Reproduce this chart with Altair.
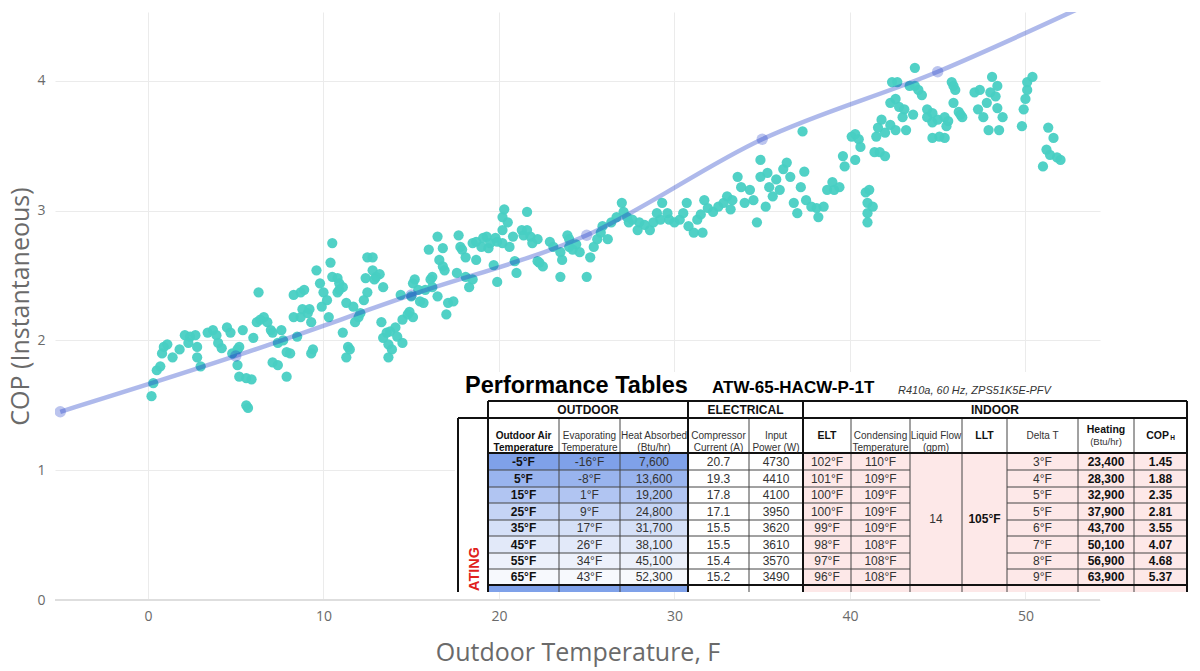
import altair as alt
import pandas as pd

# ---------------- scatter data (Outdoor temperature F, instantaneous COP) ----------------
temps = [
    0.2, 0.3, 0.5, 0.7, 0.9, 1.1, 0.8, 1.4, 1.8, 2.1, 2.4, 2.7, 2.3, 2.8, 3.0, 2.8, 3.4, 3.7, 3.9, 4.0,
    4.2, 4.5, 4.7, 4.8, 5.1, 5.2, 5.4, 5.1, 5.2, 5.6, 5.9, 5.7, 5.6, 6.0, 6.2, 6.4, 6.6, 6.3, 6.8, 7.0,
    7.1, 7.4, 7.6, 7.7, 7.9, 8.1, 7.1, 7.4, 7.9, 8.5, 8.3, 8.7, 8.3, 8.7, 8.9, 8.8, 9.1, 9.2, 9.3, 9.4,
    9.3, 9.6, 9.8, 10.0, 9.9, 10.2, 10.4, 10.5, 10.5, 10.8, 10.9, 10.9, 10.3, 11.1, 11.3, 11.3, 11.4,
    11.1, 10.8, 11.5, 11.7, 11.8, 12.0, 12.1, 12.3, 12.5, 12.4, 12.5, 12.8, 12.8, 13.0, 13.2, 12.9, 13.4,
    13.3, 13.4, 13.6, 13.8, 13.7, 13.9, 13.7, 14.1, 14.2, 14.4, 14.5, 14.5, 14.8, 14.9, 15.1, 15.0, 15.1,
    15.2, 15.4, 15.5, 15.7, 15.8, 16.0, 16.1, 16.2, 16.2, 16.5, 16.5, 16.6, 16.8, 16.8, 16.9, 17.0, 17.1,
    17.4, 17.6, 17.7, 17.8, 17.9, 18.1, 18.1, 18.3, 18.5, 18.5, 18.7, 18.7, 19.0, 19.1, 19.3, 19.4, 19.5,
    19.7, 19.8, 19.9, 19.9, 20.2, 20.2, 20.3, 20.5, 20.2, 20.6, 20.8, 20.9, 21.0, 21.3, 21.4, 21.6, 21.6,
    21.8, 21.9, 22.2, 22.2, 22.3, 22.5, 22.9, 23.1, 23.5, 23.5, 23.6, 23.9, 24.0, 24.2, 24.4,
    25.0, 24.0, 24.6, 25.2, 25.4, 25.6, 25.8, 25.9, 26.2, 26.4, 26.7, 27.0, 27.1, 27.3, 27.4, 27.6, 27.9,
    28.0, 28.3, 28.6, 28.8, 29.0, 29.2, 29.3, 29.6, 29.7, 30.0, 30.3, 30.5, 30.7, 30.8, 31.1, 31.3, 31.5,
    31.6, 31.7, 31.9, 32.2, 32.5, 32.8, 33.0, 33.2, 33.3, 33.6, 33.8, 34.0, 34.3, 34.5, 34.7, 34.9, 34.9,
    35.2, 35.3, 35.4, 35.6, 35.8, 36.0, 36.2, 36.4, 36.6, 36.8, 37.0, 37.2, 37.4,
    37.3, 37.5, 37.8, 38.1, 38.2, 38.5, 38.7, 39.0, 39.1, 39.4, 39.6, 39.7, 40.1, 40.3, 40.5, 40.6, 40.3,
    40.9, 41.1, 41.0, 41.0, 41.0, 41.3, 41.4, 41.7, 42.0, 41.5, 41.6, 41.8, 42.0, 42.3, 42.6, 42.3, 42.4,
    42.7, 42.6, 42.8, 43.1, 43.2, 43.0, 43.4, 43.7, 43.7, 43.9, 44.1, 43.6, 44.4, 44.4, 44.7, 44.7, 44.7,
    45.0, 45.1, 45.4, 45.4, 45.6, 45.5, 45.8, 45.9, 46.0, 45.9, 46.3, 46.4, 46.2, 47.1, 47.4, 47.3, 47.6,
    47.8, 47.9, 48.0, 48.1, 48.3, 48.4, 48.4, 48.5, 48.7, 49.8, 49.9, 50.0, 50.1, 50.1, 50.4, 51.3, 51.6,
    51.2, 51.4, 51.8, 52.0, 51.0,
]
cops = [
    1.57, 1.67, 1.77, 1.80, 1.95, 1.97, 1.90, 1.87, 1.93, 2.04, 2.03, 2.04, 1.98, 1.95, 1.80, 1.87, 2.06, 2.08, 2.04, 1.98,
    1.94, 2.10, 2.06, 1.90, 1.93, 1.95, 2.08, 1.81, 1.72, 1.71, 1.70, 1.48, 1.50, 2.02, 2.14, 2.16, 2.18, 2.37, 2.14, 2.08,
    2.06, 1.98, 2.08, 2.00, 1.91, 1.90, 1.83, 1.81, 1.72, 2.03, 2.18, 2.18, 2.35, 2.37, 2.39, 2.24, 2.21, 2.24, 2.14, 1.93,
    1.90, 2.54, 2.44, 2.37, 2.26, 2.31, 2.60, 2.75, 2.49, 2.48, 2.44, 2.39, 2.18, 2.06, 2.29, 1.87, 1.95,
    2.41, 2.37, 1.93, 2.26, 2.14, 2.18, 2.21, 2.31, 2.37, 2.48, 2.64, 2.64, 2.54, 2.49, 2.51, 2.47, 2.41,
    2.14, 2.02, 2.06, 2.07, 1.97, 1.93, 1.87, 2.10, 2.03, 2.35, 1.98, 2.16, 2.20, 2.22, 2.18, 2.34, 2.44,
    2.47, 2.39, 2.30, 2.29, 2.39, 2.70, 2.47, 2.49, 2.41, 2.34, 2.80, 2.62, 2.71, 2.57, 2.54, 2.20, 2.29,
    2.30, 2.52, 2.81, 2.72, 2.70, 2.64, 2.49, 2.41, 2.47, 2.75, 2.76, 2.62, 2.72, 2.79, 2.80, 2.71, 2.75,
    2.58, 2.79, 2.76, 2.45, 2.85, 2.95, 3.01, 2.91, 2.75, 2.72, 2.80, 2.61, 2.52, 2.85, 2.81, 2.99, 2.85,
    2.80, 2.75, 2.78, 2.61, 2.60, 2.57, 2.76, 2.72, 2.49, 2.68, 2.62, 2.81, 2.72, 2.70, 2.74,
    2.49, 2.78, 2.68, 2.64, 2.72, 2.78, 2.83, 2.88, 2.78, 2.91, 2.95, 3.06, 2.99, 2.95, 2.91, 2.93, 2.85,
    2.91, 2.89, 2.85, 2.91, 2.98, 2.93, 3.06, 2.98, 2.93, 2.91, 2.93, 2.98, 3.06, 2.88, 2.83, 2.93, 2.97,
    2.83, 3.08, 3.02, 2.99, 3.03, 3.06, 3.11, 3.01, 3.08, 3.26, 3.18, 3.06, 3.16, 3.08, 2.91, 3.39, 3.26,
    3.03, 3.29, 3.18, 3.11, 3.24, 3.16, 3.32, 3.37, 3.26, 3.06, 2.98, 3.18, 3.30,
    3.61, 3.08, 3.03, 3.02, 2.95, 3.03, 3.16, 3.22, 3.16, 3.18, 3.42, 3.34, 3.57, 3.59, 3.55, 3.49, 3.39,
    3.14, 3.16, 3.06, 2.98, 2.91, 3.03, 3.45, 3.45, 3.42, 3.57, 3.64, 3.70, 3.60, 3.66, 3.62, 3.83, 3.99,
    3.99, 3.86, 3.80, 3.78, 3.62, 3.72, 3.96, 4.10, 3.96, 3.93, 3.89, 3.74, 3.78, 3.72, 3.75, 3.68, 3.56,
    3.70, 3.57, 3.56, 3.72, 3.69, 3.65, 3.99, 3.96, 3.93, 3.83, 3.74, 3.72, 3.76, 3.91, 3.93, 3.78, 3.72,
    3.83, 3.62, 3.91, 4.03, 3.88, 3.96, 3.79, 3.62, 3.72, 3.65, 3.78, 3.86, 3.93, 3.99, 4.03, 3.64, 3.56,
    3.47, 3.43, 3.41, 3.39, 3.34,
]

# ---------------- rated COP line (from the performance table) ----------------
line_temps = [-5, 5, 15, 25, 35, 45, 55]
line_cops = [1.45, 1.88, 2.35, 2.81, 3.55, 4.07, 4.68]

x_ticks = [0, 10, 20, 30, 40, 50]
y_ticks = [0, 1, 2, 3, 4]

# ---------------- performance table content ----------------
outdoor_air = ["-5°F", "5°F", "15°F", "25°F", "35°F", "45°F", "55°F", "65°F"]
evap_temp = ["-16°F", "-8°F", "1°F", "9°F", "17°F", "26°F", "34°F", "43°F"]
heat_absorbed = ["7,600", "13,600", "19,200", "24,800", "31,700", "38,100", "45,100", "52,300"]
comp_current = ["20.7", "19.3", "17.8", "17.1", "15.5", "15.5", "15.4", "15.2"]
input_power = ["4730", "4410", "4100", "3950", "3620", "3610", "3570", "3490"]
elt = ["102°F", "101°F", "100°F", "100°F", "99°F", "98°F", "97°F", "96°F"]
cond_temp = ["110°F", "109°F", "109°F", "109°F", "109°F", "108°F", "108°F", "108°F"]
liquid_flow = "14"
llt = "105°F"
delta_t = ["3°F", "4°F", "5°F", "5°F", "6°F", "7°F", "8°F", "9°F"]
heating = ["23,400", "28,300", "32,900", "37,900", "43,700", "50,100", "56,900", "63,900"]
cop_h = ["1.45", "1.88", "2.35", "2.81", "3.55", "4.07", "4.68", "5.37"]

col_headers = ["Outdoor Air\nTemperature", "Evaporating\nTemperature", "Heat Absorbed\n(Btu/hr)",
               "Compressor\nCurrent (A)", "Input\nPower (W)", "ELT", "Condensing\nTemperature",
               "Liquid Flow\n(gpm)", "LLT", "Delta T", "Heating", "COP"]
group_headers = ["OUTDOOR", "ELECTRICAL", "INDOOR"]

# ---------------- styling / layout ----------------
W, H = 1045, 588
FONT = "Open Sans"
TFONT = "Liberation Sans"
DOT = "#48cfc3"
LINE = "#1e3cc8"

xs = alt.Scale(domain=[-5.3, 54.25], nice=False, zero=False)
ys = alt.Scale(domain=[0, 4.53], nice=False, zero=False)

xaxis = alt.Axis(values=x_ticks, title="Outdoor Temperature, F", grid=True, gridColor="#ebebeb",
                 domain=False, ticks=False, labelFont=FONT, labelFontSize=14, labelColor="#6a6a6a",
                 labelPadding=9, titleFont=FONT, titleFontSize=25, titleFontWeight="normal",
                 titleColor="#6a6a6a", titlePadding=17)
yaxis = alt.Axis(values=y_ticks, title="COP (Instantaneous)", grid=True, gridColor="#ebebeb",
                 domain=False, ticks=False, labelFont=FONT, labelFontSize=14, labelColor="#6a6a6a",
                 labelPadding=10, titleFont=FONT, titleFontSize=25, titleFontWeight="normal",
                 titleColor="#6a6a6a", titlePadding=3)

pts = pd.DataFrame({"t": temps, "cop": cops})
ldf = pd.DataFrame({"t": line_temps, "cop": line_cops})

zero_line = alt.Chart(pd.DataFrame({"cop": [0]})).mark_rule(color="#dedede", strokeWidth=2).encode(
    y=alt.Y("cop:Q", scale=ys, axis=yaxis))
scatter = alt.Chart(pts).mark_circle(size=105, color=DOT, opacity=0.95).encode(
    x=alt.X("t:Q", scale=xs, axis=xaxis), y=alt.Y("cop:Q", scale=ys, axis=yaxis))
line = alt.Chart(ldf).mark_line(color=LINE, opacity=0.36, strokeWidth=4.5, interpolate="monotone",
                                clip=True).encode(
    x=alt.X("t:Q", scale=xs, axis=xaxis), y=alt.Y("cop:Q", scale=ys, axis=yaxis))
markers = alt.Chart(ldf).mark_circle(color=LINE, opacity=0.3, size=130, clip=True).encode(
    x=alt.X("t:Q", scale=xs, axis=xaxis), y=alt.Y("cop:Q", scale=ys, axis=yaxis))

plot = alt.layer(zero_line, scatter, line, markers)

# ---------------- table (own scales, in table units) ----------------
tx = alt.Scale(domain=[0, 732], range=[403, 1135], nice=False, zero=False)
ty = alt.Scale(domain=[0, 220], range=[360, 580], nice=False, zero=False)


def TX(f):
    return alt.X(f"{f}:Q", scale=tx, axis=None)


def TY(f):
    return alt.Y(f"{f}:Q", scale=ty, axis=None)


col_edges = [30, 101, 162, 230, 291, 345, 393, 452, 504, 549, 620, 676, 729]
row_edges = [81, 98, 115, 131, 148, 164, 181, 197, 213]
blues = ["#7fa1e9", "#99b4ee", "#b1c5f2", "#c5d4f5", "#d5e0f7", "#e2e9f9", "#edf1fb", "#f7f9fd"]
PINK = "#fde8e8"
ccent = [(col_edges[i] + col_edges[i + 1]) / 2 for i in range(12)]
rcent = [(row_edges[i] + row_edges[i + 1]) / 2 for i in range(8)]


def fill_for(c, r):
    if c < 3:
        return blues[r]
    if c < 5:
        return "white"
    return PINK


rects = [dict(x=-3, x2=735, y=0, y2=220, fill="white")]
for r in range(8):
    for c in range(12):
        if c in (7, 8):
            continue
        rects.append(dict(x=col_edges[c], x2=col_edges[c + 1], y=row_edges[r], y2=row_edges[r + 1],
                          fill=fill_for(c, r)))
rects.append(dict(x=col_edges[7], x2=col_edges[9], y=81, y2=213, fill=PINK))
for c in range(12):
    rects.append(dict(x=col_edges[c], x2=col_edges[c + 1], y=213, y2=220, fill=fill_for(c, 0)))
rect_df = pd.DataFrame(rects)

thin = []
for yy in row_edges[1:-1]:
    thin.append(dict(x=30, x2=452, y=yy, y2=yy))
    thin.append(dict(x=549, x2=729, y=yy, y2=yy))
for i, xx in enumerate(col_edges):
    if i in (0, 3, 5, 12):
        continue
    thin.append(dict(x=xx, x2=xx, y=46, y2=220))
thin_df = pd.DataFrame(thin)

thick_df = pd.DataFrame([
    dict(x=30, x2=729, y=29, y2=29), dict(x=0, x2=729, y=46, y2=46), dict(x=30, x2=729, y=81, y2=81),
    dict(x=30, x2=729, y=213, y2=213), dict(x=0, x2=0, y=46, y2=220), dict(x=30, x2=30, y=29, y2=220),
    dict(x=230, x2=230, y=29, y2=220), dict(x=345, x2=345, y=29, y2=220), dict(x=729, x2=729, y=29, y2=220),
])

columns = [outdoor_air, evap_temp, heat_absorbed, comp_current, input_power, elt, cond_temp,
           None, None, delta_t, heating, cop_h]
bold_cols = {0, 10, 11}
normal_txt, bold_txt = [], []
for c, vals in enumerate(columns):
    if vals is None:
        continue
    for r, v in enumerate(vals):
        (bold_txt if c in bold_cols else normal_txt).append(dict(x=ccent[c], y=rcent[r], text=v, fs=12))
normal_txt.append(dict(x=ccent[7], y=147, text=liquid_flow, fs=12))
bold_txt.append(dict(x=ccent[8], y=147, text=llt, fs=12))
# headers
for i, g in enumerate(group_headers):
    gx = [(30 + 230) / 2, (230 + 345) / 2, (345 + 729) / 2][i]
    bold_txt.append(dict(x=gx, y=38, text=g, fs=12))
for c, h in enumerate(col_headers):
    if c in (5, 8):
        bold_txt.append(dict(x=ccent[c], y=63.5, text=h, fs=10.5))
    elif c == 0:
        bold_txt.append(dict(x=ccent[c], y=63.5, text=h, fs=10))
    elif c == 10:
        bold_txt.append(dict(x=ccent[c], y=58, text=h, fs=10.5))
        normal_txt.append(dict(x=ccent[c], y=70, text="(Btu/hr)", fs=9.5))
    elif c == 11:
        bold_txt.append(dict(x=ccent[c] - 3, y=63.5, text=h, fs=10.5))
    else:
        normal_txt.append(dict(x=ccent[c], y=63.5, text=h, fs=10))
sub_df = pd.DataFrame([dict(x=ccent[11] + 12, y=66, text="H", fs=6.5)])


def text_layer(rows, **kw):
    df = pd.DataFrame(rows)
    return alt.Chart(df).mark_text(font=TFONT, align="center", baseline="middle", lineBreak="\n",
                                   lineHeight=12.5, **kw).encode(
        x=TX("x"), y=TY("y"), text="text:N", size=alt.Size("fs:Q", scale=None))


rect_layer = alt.Chart(rect_df).mark_rect(strokeWidth=0).encode(
    x=TX("x"), x2="x2", y=TY("y"), y2="y2", fill=alt.Fill("fill:N", scale=None))
thin_layer = alt.Chart(thin_df).mark_rule(color="#444444", strokeWidth=1).encode(
    x=TX("x"), x2="x2", y=TY("y"), y2="y2")
thick_layer = alt.Chart(thick_df).mark_rule(color="#111111", strokeWidth=2).encode(
    x=TX("x"), x2="x2", y=TY("y"), y2="y2")

normal_layer = text_layer(normal_txt, color="#333333")
bold_layer = text_layer(bold_txt, color="#111111", fontWeight="bold")
sub_layer = text_layer(sub_df.to_dict("records"), color="#111111", fontWeight="bold")

title_df = pd.DataFrame([
    dict(x=7, y=21, text="Performance Tables", fs=23.5),
    dict(x=254, y=21, text="ATW-65-HACW-P-1T", fs=17),
])
title_layer = alt.Chart(title_df).mark_text(font=TFONT, fontWeight="bold", align="left",
                                            baseline="alphabetic", color="#000000").encode(
    x=TX("x"), y=TY("y"), text="text:N", size=alt.Size("fs:Q", scale=None))
sub_title = alt.Chart(pd.DataFrame([dict(x=440, y=22, text="R410a, 60 Hz, ZPS51K5E-PFV", fs=11)])).mark_text(
    font=TFONT, fontStyle="italic", align="left", baseline="alphabetic", color="#333333").encode(
    x=TX("x"), y=TY("y"), text="text:N", size=alt.Size("fs:Q", scale=None))
side_label = alt.Chart(pd.DataFrame([dict(x=17, y=197, text="ATING", fs=14.5)])).mark_text(
    font=TFONT, fontWeight="bold", align="center", baseline="middle", angle=270, color="#e0201c").encode(
    x=TX("x"), y=TY("y"), text="text:N", size=alt.Size("fs:Q", scale=None))

table = alt.layer(rect_layer, thin_layer, thick_layer, normal_layer, bold_layer, sub_layer,
                  title_layer, sub_title, side_label)

chart = alt.layer(plot, table).resolve_scale(x="independent", y="independent").properties(
    width=W, height=H,
    autosize=alt.AutoSizeParams(type="none"),
    padding={"left": 55, "top": 12, "right": 100, "bottom": 71},
    background="white",
).configure_view(stroke=None)

chart.save("out.html", embed_options={"renderer": "svg", "actions": False})
